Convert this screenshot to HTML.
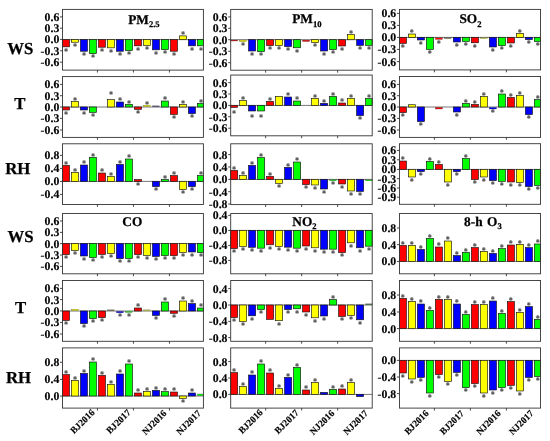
<!DOCTYPE html>
<html lang="en"><head><meta charset="utf-8"><title>Correlation of pollutants with WS, T and RH</title>
<style>
html,body{margin:0;padding:0;background:#fff;}
svg{display:block;font-family:"Liberation Serif",serif;font-weight:bold;fill:#000;text-rendering:geometricPrecision;}
.tk{font-size:11.8px;text-anchor:end;stroke:#000;stroke-width:0.15;}
.tt{font-size:13.3px;stroke:#000;stroke-width:0.25;word-spacing:1.2px;}
.sb{font-size:8.6px;stroke:#000;stroke-width:0.25;}
.rl{font-size:16.8px;text-anchor:middle;stroke:#000;stroke-width:0.25;}
.xl{font-size:9.45px;text-anchor:end;stroke:#000;stroke-width:0.15;}
.as{font-family:"Liberation Serif",serif;font-weight:bold;font-size:7.2px;fill:#585858;stroke:#585858;stroke-width:0.28;text-anchor:middle;}
.fr{fill:none;stroke:#333;stroke-width:0.9;}
.ln{stroke:#333;stroke-width:0.9;}
.z{stroke:#4a4a4a;stroke-width:0.75;}
.b{stroke:#111;stroke-width:0.65;}
</style></head><body>
<svg width="550" height="441" viewBox="0 0 550 441">
<rect x="0" y="0" width="550" height="441" fill="#fff"/>
<text class="rl" x="20.4" y="53.5">WS</text>
<text class="rl" x="19.8" y="108.6">T</text>
<text class="rl" x="17.8" y="173.5">RH</text>
<text class="rl" x="20.5" y="242.2">WS</text>
<text class="rl" x="20.5" y="312.7">T</text>
<text class="rl" x="18.6" y="382.6">RH</text>
<g>
<line class="z" x1="62.5" y1="39.65" x2="203.4" y2="39.65"/>
<rect class="b" x="62.42" y="39.65" width="7.05" height="7.17" fill="#ff0000"/>
<rect class="b" x="71.42" y="39.65" width="7.05" height="2.57" fill="#ffff00"/>
<rect class="b" x="80.42" y="39.65" width="7.05" height="11.58" fill="#0000ff"/>
<rect class="b" x="89.42" y="39.65" width="7.05" height="13.98" fill="#00ff00"/>
<rect class="b" x="98.42" y="39.65" width="7.05" height="7.57" fill="#ff0000"/>
<rect class="b" x="107.42" y="39.65" width="7.05" height="8.18" fill="#ffff00"/>
<rect class="b" x="116.42" y="39.65" width="7.05" height="11.58" fill="#0000ff"/>
<rect class="b" x="125.42" y="39.65" width="7.05" height="10.98" fill="#00ff00"/>
<rect class="b" x="134.43" y="39.65" width="7.05" height="6.17" fill="#ff0000"/>
<rect class="b" x="143.43" y="39.65" width="7.05" height="5.77" fill="#ffff00"/>
<rect class="b" x="152.43" y="39.65" width="7.05" height="10.18" fill="#0000ff"/>
<rect class="b" x="161.43" y="39.65" width="7.05" height="9.98" fill="#00ff00"/>
<rect class="b" x="170.43" y="39.65" width="7.05" height="11.58" fill="#ff0000"/>
<rect class="b" x="179.43" y="35.88" width="7.05" height="3.77" fill="#ffff00"/>
<rect class="b" x="188.43" y="39.65" width="7.05" height="6.17" fill="#0000ff"/>
<rect class="b" x="197.43" y="39.65" width="5.97" height="6.17" fill="#00ff00"/>
<rect class="fr" x="62.5" y="9.4" width="140.9" height="60.7"/>
<line class="ln" x1="60" y1="16.9" x2="62.5" y2="16.9"/>
<text class="tk" x="59.3" y="20.85">0.6</text>
<line class="ln" x1="60" y1="28.2" x2="62.5" y2="28.2"/>
<text class="tk" x="59.3" y="32.15">0.3</text>
<line class="ln" x1="60" y1="39.4" x2="62.5" y2="39.4"/>
<text class="tk" x="59.3" y="43.35">0.0</text>
<line class="ln" x1="60" y1="50.8" x2="62.5" y2="50.8"/>
<text class="tk" x="59.3" y="54.75">-0.3</text>
<line class="ln" x1="60" y1="62.2" x2="62.5" y2="62.2"/>
<text class="tk" x="59.3" y="66.15">-0.6</text>
<line class="ln" x1="97.45" y1="70.1" x2="97.45" y2="72.5"/>
<line class="ln" x1="133.45" y1="70.1" x2="133.45" y2="72.5"/>
<line class="ln" x1="169.45" y1="70.1" x2="169.45" y2="72.5"/>
<text class="as" transform="translate(65.95 53.65) scale(1 1.2)">*</text>
<text class="as" transform="translate(74.95 49.05) scale(1 1.2)">*</text>
<text class="as" transform="translate(83.95 58.05) scale(1 1.2)">*</text>
<text class="as" transform="translate(92.95 60.45) scale(1 1.2)">*</text>
<text class="as" transform="translate(101.95 54.05) scale(1 1.2)">*</text>
<text class="as" transform="translate(110.95 54.65) scale(1 1.2)">*</text>
<text class="as" transform="translate(119.95 58.05) scale(1 1.2)">*</text>
<text class="as" transform="translate(128.95 57.45) scale(1 1.2)">*</text>
<text class="as" transform="translate(137.95 52.65) scale(1 1.2)">*</text>
<text class="as" transform="translate(146.95 52.25) scale(1 1.2)">*</text>
<text class="as" transform="translate(155.95 56.65) scale(1 1.2)">*</text>
<text class="as" transform="translate(164.95 56.45) scale(1 1.2)">*</text>
<text class="as" transform="translate(173.95 58.05) scale(1 1.2)">*</text>
<text class="as" transform="translate(182.95 37.25) scale(1 1.2)">*</text>
<text class="as" transform="translate(191.95 52.65) scale(1 1.2)">*</text>
<text class="as" transform="translate(200.95 52.65) scale(1 1.2)">*</text>
<text class="tt" transform="translate(128.2 23.9)">PM<tspan class="sb" dy="3.3">2.5</tspan></text>
</g>
<g>
<line class="z" x1="230.7" y1="39.7" x2="372.2" y2="39.7"/>
<rect x="230.62" y="40.1" width="7.05" height="0.9" fill="#ff0000" stroke="#333" stroke-width="0.3"/>
<rect x="239.62" y="40.1" width="7.05" height="1.6" fill="#ffff00" stroke="#333" stroke-width="0.3"/>
<rect class="b" x="248.62" y="39.7" width="7.05" height="11.28" fill="#0000ff"/>
<rect class="b" x="257.62" y="39.7" width="7.05" height="11.88" fill="#00ff00"/>
<rect class="b" x="266.62" y="39.7" width="7.05" height="5.88" fill="#ff0000"/>
<rect class="b" x="275.62" y="39.7" width="7.05" height="5.88" fill="#ffff00"/>
<rect class="b" x="284.62" y="39.7" width="7.05" height="6.88" fill="#0000ff"/>
<rect class="b" x="293.62" y="39.7" width="7.05" height="8.08" fill="#00ff00"/>
<rect x="302.62" y="40.1" width="7.05" height="1.4" fill="#ff0000" stroke="#333" stroke-width="0.3"/>
<rect class="b" x="311.62" y="39.7" width="7.05" height="2.87" fill="#ffff00"/>
<rect class="b" x="320.62" y="39.7" width="7.05" height="11.28" fill="#0000ff"/>
<rect class="b" x="329.62" y="39.7" width="7.05" height="9.88" fill="#00ff00"/>
<rect class="b" x="338.62" y="39.7" width="7.05" height="6.27" fill="#ff0000"/>
<rect class="b" x="347.62" y="34.63" width="7.05" height="5.07" fill="#ffff00"/>
<rect class="b" x="356.62" y="39.7" width="7.05" height="5.67" fill="#0000ff"/>
<rect class="b" x="365.62" y="39.7" width="6.57" height="5.67" fill="#00ff00"/>
<rect class="fr" x="230.7" y="9.4" width="141.5" height="60.8"/>
<line class="ln" x1="228.2" y1="16.9" x2="230.7" y2="16.9"/>
<text class="tk" x="227.5" y="20.85">0.6</text>
<line class="ln" x1="228.2" y1="28.3" x2="230.7" y2="28.3"/>
<text class="tk" x="227.5" y="32.25">0.3</text>
<line class="ln" x1="228.2" y1="39.7" x2="230.7" y2="39.7"/>
<text class="tk" x="227.5" y="43.65">0.0</text>
<line class="ln" x1="228.2" y1="51.3" x2="230.7" y2="51.3"/>
<text class="tk" x="227.5" y="55.25">-0.3</text>
<line class="ln" x1="228.2" y1="62.7" x2="230.7" y2="62.7"/>
<text class="tk" x="227.5" y="66.65">-0.6</text>
<line class="ln" x1="265.65" y1="70.2" x2="265.65" y2="72.6"/>
<line class="ln" x1="301.65" y1="70.2" x2="301.65" y2="72.6"/>
<line class="ln" x1="337.65" y1="70.2" x2="337.65" y2="72.6"/>
<text class="as" transform="translate(243.15 48.1) scale(1 1.2)">*</text>
<text class="as" transform="translate(252.15 57.8) scale(1 1.2)">*</text>
<text class="as" transform="translate(261.15 58.4) scale(1 1.2)">*</text>
<text class="as" transform="translate(270.15 52.4) scale(1 1.2)">*</text>
<text class="as" transform="translate(279.15 52.4) scale(1 1.2)">*</text>
<text class="as" transform="translate(288.15 53.4) scale(1 1.2)">*</text>
<text class="as" transform="translate(297.15 54.6) scale(1 1.2)">*</text>
<text class="as" transform="translate(315.15 49.4) scale(1 1.2)">*</text>
<text class="as" transform="translate(324.15 57.8) scale(1 1.2)">*</text>
<text class="as" transform="translate(333.15 56.4) scale(1 1.2)">*</text>
<text class="as" transform="translate(342.15 52.8) scale(1 1.2)">*</text>
<text class="as" transform="translate(351.15 36) scale(1 1.2)">*</text>
<text class="as" transform="translate(360.15 52.2) scale(1 1.2)">*</text>
<text class="as" transform="translate(369.15 52.2) scale(1 1.2)">*</text>
<text class="tt" transform="translate(292.2 23.4)">PM<tspan class="sb" dy="3.3">10</tspan></text>
</g>
<g>
<line class="z" x1="399.45" y1="37.4" x2="540.55" y2="37.4"/>
<rect class="b" x="399.38" y="37.4" width="7.05" height="5.97" fill="#ff0000"/>
<rect class="b" x="408.38" y="34.02" width="7.05" height="3.37" fill="#ffff00"/>
<rect class="b" x="417.38" y="37.4" width="7.05" height="2.57" fill="#0000ff"/>
<rect class="b" x="426.38" y="37.4" width="7.05" height="11.98" fill="#00ff00"/>
<rect x="435.38" y="37.8" width="7.05" height="1.6" fill="#ff0000" stroke="#333" stroke-width="0.3"/>
<rect x="444.38" y="37.8" width="7.05" height="0.7" fill="#6f6f30" stroke="#333" stroke-width="0.3"/>
<rect class="b" x="453.38" y="37.4" width="7.05" height="4.57" fill="#0000ff"/>
<rect class="b" x="462.38" y="37.4" width="7.05" height="3.97" fill="#00ff00"/>
<rect class="b" x="471.38" y="37.4" width="7.05" height="5.38" fill="#ff0000"/>
<rect x="480.38" y="37.8" width="7.05" height="0.7" fill="#ffff00" stroke="#333" stroke-width="0.3"/>
<rect class="b" x="489.38" y="37.4" width="7.05" height="9.58" fill="#0000ff"/>
<rect class="b" x="498.38" y="37.4" width="7.05" height="8.18" fill="#00ff00"/>
<rect class="b" x="507.38" y="37.4" width="7.05" height="5.57" fill="#ff0000"/>
<rect class="b" x="516.38" y="33.43" width="7.05" height="3.97" fill="#ffff00"/>
<rect class="b" x="525.38" y="37.4" width="7.05" height="2.17" fill="#0000ff"/>
<rect class="b" x="534.38" y="37.4" width="6.17" height="3.97" fill="#00ff00"/>
<rect class="fr" x="399.45" y="9.4" width="141.1" height="60.5"/>
<line class="ln" x1="396.95" y1="13.4" x2="399.45" y2="13.4"/>
<text class="tk" x="396.25" y="17.35">0.6</text>
<line class="ln" x1="396.95" y1="25.4" x2="399.45" y2="25.4"/>
<text class="tk" x="396.25" y="29.35">0.3</text>
<line class="ln" x1="396.95" y1="37.4" x2="399.45" y2="37.4"/>
<text class="tk" x="396.25" y="41.35">0.0</text>
<line class="ln" x1="396.95" y1="49.4" x2="399.45" y2="49.4"/>
<text class="tk" x="396.25" y="53.35">-0.3</text>
<line class="ln" x1="396.95" y1="61.6" x2="399.45" y2="61.6"/>
<text class="tk" x="396.25" y="65.55">-0.6</text>
<line class="ln" x1="434.4" y1="69.9" x2="434.4" y2="72.3"/>
<line class="ln" x1="470.4" y1="69.9" x2="470.4" y2="72.3"/>
<line class="ln" x1="506.4" y1="69.9" x2="506.4" y2="72.3"/>
<text class="as" transform="translate(402.9 50.2) scale(1 1.2)">*</text>
<text class="as" transform="translate(411.9 35.4) scale(1 1.2)">*</text>
<text class="as" transform="translate(420.9 46.8) scale(1 1.2)">*</text>
<text class="as" transform="translate(429.9 56.2) scale(1 1.2)">*</text>
<text class="as" transform="translate(438.9 45.8) scale(1 1.2)">*</text>
<text class="as" transform="translate(456.9 48.8) scale(1 1.2)">*</text>
<text class="as" transform="translate(465.9 48.2) scale(1 1.2)">*</text>
<text class="as" transform="translate(474.9 49.6) scale(1 1.2)">*</text>
<text class="as" transform="translate(492.9 53.8) scale(1 1.2)">*</text>
<text class="as" transform="translate(501.9 52.4) scale(1 1.2)">*</text>
<text class="as" transform="translate(510.9 49.8) scale(1 1.2)">*</text>
<text class="as" transform="translate(519.9 34.8) scale(1 1.2)">*</text>
<text class="as" transform="translate(528.9 46.4) scale(1 1.2)">*</text>
<text class="as" transform="translate(537.9 48.2) scale(1 1.2)">*</text>
<text class="tt" transform="translate(459.4 23.3)">SO<tspan class="sb" dy="3.3">2</tspan></text>
</g>
<g>
<line class="z" x1="62.5" y1="107" x2="203.4" y2="107"/>
<rect class="b" x="62.42" y="107" width="7.05" height="2.97" fill="#ff0000"/>
<rect class="b" x="71.42" y="101.42" width="7.05" height="5.57" fill="#ffff00"/>
<rect class="b" x="80.42" y="107" width="7.05" height="2.97" fill="#0000ff"/>
<rect class="b" x="89.42" y="107" width="7.05" height="5.38" fill="#00ff00"/>
<rect class="b" x="107.42" y="99.62" width="7.05" height="7.38" fill="#ffff00"/>
<rect class="b" x="116.42" y="102.03" width="7.05" height="4.97" fill="#0000ff"/>
<rect class="b" x="125.42" y="104.42" width="7.05" height="2.57" fill="#00ff00"/>
<rect class="b" x="134.43" y="107" width="7.05" height="2.37" fill="#ff0000"/>
<rect x="143.43" y="105.2" width="7.05" height="1.4" fill="#ffff00" stroke="#333" stroke-width="0.3"/>
<rect x="152.43" y="105.9" width="7.05" height="0.7" fill="#30306f" stroke="#333" stroke-width="0.3"/>
<rect class="b" x="161.43" y="101.03" width="7.05" height="5.97" fill="#00ff00"/>
<rect class="b" x="170.43" y="107" width="7.05" height="7.38" fill="#ff0000"/>
<rect class="b" x="179.43" y="104.62" width="7.05" height="2.37" fill="#ffff00"/>
<rect class="b" x="188.43" y="107" width="7.05" height="6.57" fill="#0000ff"/>
<rect class="b" x="197.43" y="103.42" width="5.97" height="3.57" fill="#00ff00"/>
<rect class="fr" x="62.5" y="76.6" width="140.9" height="60.8"/>
<line class="ln" x1="60" y1="84.4" x2="62.5" y2="84.4"/>
<text class="tk" x="59.3" y="88.35">0.6</text>
<line class="ln" x1="60" y1="95.7" x2="62.5" y2="95.7"/>
<text class="tk" x="59.3" y="99.65">0.3</text>
<line class="ln" x1="60" y1="107" x2="62.5" y2="107"/>
<text class="tk" x="59.3" y="110.95">0.0</text>
<line class="ln" x1="60" y1="118.4" x2="62.5" y2="118.4"/>
<text class="tk" x="59.3" y="122.35">-0.3</text>
<line class="ln" x1="60" y1="130" x2="62.5" y2="130"/>
<text class="tk" x="59.3" y="133.95">-0.6</text>
<line class="ln" x1="97.45" y1="137.4" x2="97.45" y2="139.8"/>
<line class="ln" x1="133.45" y1="137.4" x2="133.45" y2="139.8"/>
<line class="ln" x1="169.45" y1="137.4" x2="169.45" y2="139.8"/>
<text class="as" transform="translate(65.95 116.8) scale(1 1.2)">*</text>
<text class="as" transform="translate(74.95 102.8) scale(1 1.2)">*</text>
<text class="as" transform="translate(83.95 116.8) scale(1 1.2)">*</text>
<text class="as" transform="translate(92.95 119.2) scale(1 1.2)">*</text>
<text class="as" transform="translate(110.95 97.1) scale(1 1.2)">*</text>
<text class="as" transform="translate(119.95 103.4) scale(1 1.2)">*</text>
<text class="as" transform="translate(128.95 105.8) scale(1 1.2)">*</text>
<text class="as" transform="translate(137.95 116.2) scale(1 1.2)">*</text>
<text class="as" transform="translate(146.95 107) scale(1 1.2)">*</text>
<text class="as" transform="translate(164.95 102.4) scale(1 1.2)">*</text>
<text class="as" transform="translate(173.95 121.2) scale(1 1.2)">*</text>
<text class="as" transform="translate(182.95 106) scale(1 1.2)">*</text>
<text class="as" transform="translate(191.95 120.4) scale(1 1.2)">*</text>
<text class="as" transform="translate(200.95 104.8) scale(1 1.2)">*</text>
</g>
<g>
<line class="z" x1="230.7" y1="105.4" x2="372.2" y2="105.4"/>
<rect class="b" x="230.62" y="105.4" width="7.05" height="1.97" fill="#ff0000"/>
<rect class="b" x="239.62" y="100.63" width="7.05" height="4.77" fill="#ffff00"/>
<rect class="b" x="248.62" y="105.4" width="7.05" height="5.57" fill="#0000ff"/>
<rect class="b" x="257.62" y="105.4" width="7.05" height="5.57" fill="#00ff00"/>
<rect class="b" x="266.62" y="101.43" width="7.05" height="3.97" fill="#ff0000"/>
<rect class="b" x="275.62" y="96.43" width="7.05" height="8.98" fill="#ffff00"/>
<rect class="b" x="284.62" y="97.03" width="7.05" height="8.38" fill="#0000ff"/>
<rect class="b" x="293.62" y="101.03" width="7.05" height="4.38" fill="#00ff00"/>
<rect class="b" x="311.62" y="98.43" width="7.05" height="6.97" fill="#ffff00"/>
<rect class="b" x="320.62" y="103.43" width="7.05" height="1.97" fill="#0000ff"/>
<rect class="b" x="329.62" y="96.43" width="7.05" height="8.98" fill="#00ff00"/>
<rect class="b" x="338.62" y="103.03" width="7.05" height="2.37" fill="#ff0000"/>
<rect class="b" x="347.62" y="98.43" width="7.05" height="6.97" fill="#ffff00"/>
<rect class="b" x="356.62" y="105.4" width="7.05" height="10.18" fill="#0000ff"/>
<rect class="b" x="365.62" y="98.63" width="6.57" height="6.77" fill="#00ff00"/>
<rect class="fr" x="230.7" y="75.05" width="141.5" height="60.75"/>
<line class="ln" x1="228.2" y1="82.6" x2="230.7" y2="82.6"/>
<text class="tk" x="227.5" y="86.55">0.6</text>
<line class="ln" x1="228.2" y1="94" x2="230.7" y2="94"/>
<text class="tk" x="227.5" y="97.95">0.3</text>
<line class="ln" x1="228.2" y1="105.4" x2="230.7" y2="105.4"/>
<text class="tk" x="227.5" y="109.35">0.0</text>
<line class="ln" x1="228.2" y1="116.7" x2="230.7" y2="116.7"/>
<text class="tk" x="227.5" y="120.65">-0.3</text>
<line class="ln" x1="228.2" y1="128.2" x2="230.7" y2="128.2"/>
<text class="tk" x="227.5" y="132.15">-0.6</text>
<line class="ln" x1="265.65" y1="135.8" x2="265.65" y2="138.2"/>
<line class="ln" x1="301.65" y1="135.8" x2="301.65" y2="138.2"/>
<line class="ln" x1="337.65" y1="135.8" x2="337.65" y2="138.2"/>
<text class="as" transform="translate(234.15 116.2) scale(1 1.2)">*</text>
<text class="as" transform="translate(243.15 102) scale(1 1.2)">*</text>
<text class="as" transform="translate(252.15 120) scale(1 1.2)">*</text>
<text class="as" transform="translate(261.15 120) scale(1 1.2)">*</text>
<text class="as" transform="translate(270.15 102.8) scale(1 1.2)">*</text>
<text class="as" transform="translate(288.15 98.4) scale(1 1.2)">*</text>
<text class="as" transform="translate(297.15 102.4) scale(1 1.2)">*</text>
<text class="as" transform="translate(315.15 99.8) scale(1 1.2)">*</text>
<text class="as" transform="translate(324.15 104.8) scale(1 1.2)">*</text>
<text class="as" transform="translate(333.15 97.8) scale(1 1.2)">*</text>
<text class="as" transform="translate(342.15 104.4) scale(1 1.2)">*</text>
<text class="as" transform="translate(351.15 99.8) scale(1 1.2)">*</text>
<text class="as" transform="translate(360.15 122.4) scale(1 1.2)">*</text>
<text class="as" transform="translate(369.15 100) scale(1 1.2)">*</text>
</g>
<g>
<line class="z" x1="399.45" y1="107" x2="540.55" y2="107"/>
<rect class="b" x="399.38" y="107" width="7.05" height="5.57" fill="#ff0000"/>
<rect class="b" x="408.38" y="104.73" width="7.05" height="2.27" fill="#ffff00"/>
<rect class="b" x="417.38" y="107" width="7.05" height="14.58" fill="#0000ff"/>
<rect x="435.38" y="107.4" width="7.05" height="1.6" fill="#ff0000" stroke="#333" stroke-width="0.3"/>
<rect class="b" x="453.38" y="107" width="7.05" height="4.97" fill="#0000ff"/>
<rect class="b" x="462.38" y="103.42" width="7.05" height="3.57" fill="#00ff00"/>
<rect class="b" x="471.38" y="104.42" width="7.05" height="2.57" fill="#ff0000"/>
<rect class="b" x="480.38" y="96.42" width="7.05" height="10.58" fill="#ffff00"/>
<rect x="489.38" y="107.4" width="7.05" height="1.6" fill="#0000ff" stroke="#333" stroke-width="0.3"/>
<rect class="b" x="498.38" y="94.03" width="7.05" height="12.98" fill="#00ff00"/>
<rect class="b" x="507.38" y="97.42" width="7.05" height="9.58" fill="#ff0000"/>
<rect class="b" x="516.38" y="95.42" width="7.05" height="11.58" fill="#ffff00"/>
<rect class="b" x="525.38" y="107" width="7.05" height="7.57" fill="#0000ff"/>
<rect class="b" x="534.38" y="99.62" width="6.17" height="7.38" fill="#00ff00"/>
<rect class="fr" x="399.45" y="76.5" width="141.1" height="60.9"/>
<line class="ln" x1="396.95" y1="84.4" x2="399.45" y2="84.4"/>
<text class="tk" x="396.25" y="88.35">0.6</text>
<line class="ln" x1="396.95" y1="95.7" x2="399.45" y2="95.7"/>
<text class="tk" x="396.25" y="99.65">0.3</text>
<line class="ln" x1="396.95" y1="107" x2="399.45" y2="107"/>
<text class="tk" x="396.25" y="110.95">0.0</text>
<line class="ln" x1="396.95" y1="118.4" x2="399.45" y2="118.4"/>
<text class="tk" x="396.25" y="122.35">-0.3</text>
<line class="ln" x1="396.95" y1="130" x2="399.45" y2="130"/>
<text class="tk" x="396.25" y="133.95">-0.6</text>
<line class="ln" x1="434.4" y1="137.4" x2="434.4" y2="139.8"/>
<line class="ln" x1="470.4" y1="137.4" x2="470.4" y2="139.8"/>
<line class="ln" x1="506.4" y1="137.4" x2="506.4" y2="139.8"/>
<text class="as" transform="translate(402.9 119.4) scale(1 1.2)">*</text>
<text class="as" transform="translate(420.9 128.4) scale(1 1.2)">*</text>
<text class="as" transform="translate(456.9 118.8) scale(1 1.2)">*</text>
<text class="as" transform="translate(465.9 104.8) scale(1 1.2)">*</text>
<text class="as" transform="translate(474.9 105.8) scale(1 1.2)">*</text>
<text class="as" transform="translate(483.9 97.8) scale(1 1.2)">*</text>
<text class="as" transform="translate(492.9 115.4) scale(1 1.2)">*</text>
<text class="as" transform="translate(501.9 95.4) scale(1 1.2)">*</text>
<text class="as" transform="translate(510.9 98.8) scale(1 1.2)">*</text>
<text class="as" transform="translate(519.9 96.8) scale(1 1.2)">*</text>
<text class="as" transform="translate(528.9 121.4) scale(1 1.2)">*</text>
<text class="as" transform="translate(537.9 101) scale(1 1.2)">*</text>
</g>
<g>
<line class="z" x1="62.5" y1="181.4" x2="203.4" y2="181.4"/>
<rect class="b" x="62.42" y="165.42" width="7.05" height="15.98" fill="#ff0000"/>
<rect class="b" x="71.42" y="172.42" width="7.05" height="8.98" fill="#ffff00"/>
<rect class="b" x="80.42" y="165.03" width="7.05" height="16.38" fill="#0000ff"/>
<rect class="b" x="89.42" y="157.42" width="7.05" height="23.98" fill="#00ff00"/>
<rect class="b" x="98.42" y="173.03" width="7.05" height="8.38" fill="#ff0000"/>
<rect class="b" x="107.42" y="176.42" width="7.05" height="4.97" fill="#ffff00"/>
<rect class="b" x="116.42" y="164.42" width="7.05" height="16.98" fill="#0000ff"/>
<rect class="b" x="125.42" y="159.03" width="7.05" height="22.38" fill="#00ff00"/>
<rect class="b" x="134.43" y="179.62" width="7.05" height="1.78" fill="#ff0000"/>
<rect class="b" x="152.43" y="181.4" width="7.05" height="5.17" fill="#0000ff"/>
<rect class="b" x="161.43" y="179.42" width="7.05" height="1.97" fill="#00ff00"/>
<rect class="b" x="170.43" y="175.62" width="7.05" height="5.77" fill="#ff0000"/>
<rect class="b" x="179.43" y="181.4" width="7.05" height="8.18" fill="#ffff00"/>
<rect class="b" x="188.43" y="181.4" width="7.05" height="5.17" fill="#0000ff"/>
<rect class="b" x="197.43" y="175.62" width="5.97" height="5.77" fill="#00ff00"/>
<rect class="fr" x="62.5" y="143.8" width="140.9" height="60.65"/>
<line class="ln" x1="60" y1="155.4" x2="62.5" y2="155.4"/>
<text class="tk" x="59.3" y="159.35">0.8</text>
<line class="ln" x1="60" y1="168.4" x2="62.5" y2="168.4"/>
<text class="tk" x="59.3" y="172.35">0.4</text>
<line class="ln" x1="60" y1="181.4" x2="62.5" y2="181.4"/>
<text class="tk" x="59.3" y="185.35">0.0</text>
<line class="ln" x1="60" y1="194.4" x2="62.5" y2="194.4"/>
<text class="tk" x="59.3" y="198.35">-0.4</text>
<line class="ln" x1="97.45" y1="204.45" x2="97.45" y2="206.85"/>
<line class="ln" x1="133.45" y1="204.45" x2="133.45" y2="206.85"/>
<line class="ln" x1="169.45" y1="204.45" x2="169.45" y2="206.85"/>
<text class="as" transform="translate(65.95 166.8) scale(1 1.2)">*</text>
<text class="as" transform="translate(74.95 173.8) scale(1 1.2)">*</text>
<text class="as" transform="translate(83.95 166.4) scale(1 1.2)">*</text>
<text class="as" transform="translate(92.95 158.8) scale(1 1.2)">*</text>
<text class="as" transform="translate(101.95 174.4) scale(1 1.2)">*</text>
<text class="as" transform="translate(110.95 177.8) scale(1 1.2)">*</text>
<text class="as" transform="translate(119.95 165.8) scale(1 1.2)">*</text>
<text class="as" transform="translate(128.95 160.4) scale(1 1.2)">*</text>
<text class="as" transform="translate(137.95 188.3) scale(1 1.2)">*</text>
<text class="as" transform="translate(155.95 193.4) scale(1 1.2)">*</text>
<text class="as" transform="translate(164.95 180.8) scale(1 1.2)">*</text>
<text class="as" transform="translate(173.95 177) scale(1 1.2)">*</text>
<text class="as" transform="translate(182.95 196.4) scale(1 1.2)">*</text>
<text class="as" transform="translate(191.95 193.4) scale(1 1.2)">*</text>
<text class="as" transform="translate(200.95 177) scale(1 1.2)">*</text>
</g>
<g>
<line class="z" x1="230.7" y1="179.4" x2="372.2" y2="179.4"/>
<rect class="b" x="230.62" y="170.42" width="7.05" height="8.98" fill="#ff0000"/>
<rect class="b" x="239.62" y="175.42" width="7.05" height="3.97" fill="#ffff00"/>
<rect class="b" x="248.62" y="165.42" width="7.05" height="13.98" fill="#0000ff"/>
<rect class="b" x="257.62" y="157.62" width="7.05" height="21.78" fill="#00ff00"/>
<rect class="b" x="266.62" y="176.42" width="7.05" height="2.97" fill="#ff0000"/>
<rect class="b" x="275.62" y="179.4" width="7.05" height="3.97" fill="#ffff00"/>
<rect class="b" x="284.62" y="167.42" width="7.05" height="11.98" fill="#0000ff"/>
<rect class="b" x="293.62" y="162.03" width="7.05" height="17.38" fill="#00ff00"/>
<rect class="b" x="302.62" y="179.4" width="7.05" height="5.17" fill="#ff0000"/>
<rect class="b" x="311.62" y="179.4" width="7.05" height="5.57" fill="#ffff00"/>
<rect class="b" x="320.62" y="179.4" width="7.05" height="9.58" fill="#0000ff"/>
<rect x="329.62" y="179.8" width="7.05" height="1" fill="#00ff00" stroke="#333" stroke-width="0.3"/>
<rect class="b" x="338.62" y="179.4" width="7.05" height="4.57" fill="#ff0000"/>
<rect class="b" x="347.62" y="179.4" width="7.05" height="11.58" fill="#ffff00"/>
<rect class="b" x="356.62" y="179.4" width="7.05" height="11.98" fill="#0000ff"/>
<rect x="365.62" y="179.8" width="6.57" height="1" fill="#00ff00" stroke="#333" stroke-width="0.3"/>
<rect class="fr" x="230.7" y="143.8" width="141.5" height="60.8"/>
<line class="ln" x1="228.2" y1="154.6" x2="230.7" y2="154.6"/>
<text class="tk" x="227.5" y="158.55">0.8</text>
<line class="ln" x1="228.2" y1="167" x2="230.7" y2="167"/>
<text class="tk" x="227.5" y="170.95">0.4</text>
<line class="ln" x1="228.2" y1="179.4" x2="230.7" y2="179.4"/>
<text class="tk" x="227.5" y="183.35">0.0</text>
<line class="ln" x1="228.2" y1="191.7" x2="230.7" y2="191.7"/>
<text class="tk" x="227.5" y="195.65">-0.4</text>
<line class="ln" x1="228.2" y1="204" x2="230.7" y2="204"/>
<text class="tk" x="227.5" y="207.95">-0.8</text>
<line class="ln" x1="265.65" y1="204.6" x2="265.65" y2="207"/>
<line class="ln" x1="301.65" y1="204.6" x2="301.65" y2="207"/>
<line class="ln" x1="337.65" y1="204.6" x2="337.65" y2="207"/>
<text class="as" transform="translate(234.15 171.8) scale(1 1.2)">*</text>
<text class="as" transform="translate(243.15 176.8) scale(1 1.2)">*</text>
<text class="as" transform="translate(252.15 166.8) scale(1 1.2)">*</text>
<text class="as" transform="translate(261.15 159) scale(1 1.2)">*</text>
<text class="as" transform="translate(270.15 177.8) scale(1 1.2)">*</text>
<text class="as" transform="translate(279.15 190.2) scale(1 1.2)">*</text>
<text class="as" transform="translate(288.15 168.8) scale(1 1.2)">*</text>
<text class="as" transform="translate(297.15 163.4) scale(1 1.2)">*</text>
<text class="as" transform="translate(306.15 191.4) scale(1 1.2)">*</text>
<text class="as" transform="translate(315.15 191.8) scale(1 1.2)">*</text>
<text class="as" transform="translate(324.15 195.8) scale(1 1.2)">*</text>
<text class="as" transform="translate(333.15 187.2) scale(1 1.2)">*</text>
<text class="as" transform="translate(342.15 190.8) scale(1 1.2)">*</text>
<text class="as" transform="translate(351.15 197.8) scale(1 1.2)">*</text>
<text class="as" transform="translate(360.15 198.2) scale(1 1.2)">*</text>
</g>
<g>
<line class="z" x1="399.45" y1="169.4" x2="540.55" y2="169.4"/>
<rect class="b" x="399.38" y="161.03" width="7.05" height="8.38" fill="#ff0000"/>
<rect class="b" x="408.38" y="169.4" width="7.05" height="7.57" fill="#ffff00"/>
<rect class="b" x="417.38" y="169.4" width="7.05" height="2.17" fill="#0000ff"/>
<rect class="b" x="426.38" y="161.42" width="7.05" height="7.98" fill="#00ff00"/>
<rect class="b" x="435.38" y="164.42" width="7.05" height="4.97" fill="#ff0000"/>
<rect class="b" x="444.38" y="169.4" width="7.05" height="12.58" fill="#ffff00"/>
<rect class="b" x="453.38" y="169.4" width="7.05" height="2.17" fill="#0000ff"/>
<rect class="b" x="462.38" y="158.62" width="7.05" height="10.78" fill="#00ff00"/>
<rect class="b" x="471.38" y="169.4" width="7.05" height="10.18" fill="#ff0000"/>
<rect class="b" x="480.38" y="169.4" width="7.05" height="7.57" fill="#ffff00"/>
<rect class="b" x="489.38" y="169.4" width="7.05" height="11.18" fill="#0000ff"/>
<rect class="b" x="498.38" y="169.4" width="7.05" height="11.98" fill="#00ff00"/>
<rect class="b" x="507.38" y="169.4" width="7.05" height="12.58" fill="#ff0000"/>
<rect class="b" x="516.38" y="169.4" width="7.05" height="12.98" fill="#ffff00"/>
<rect class="b" x="525.38" y="169.4" width="7.05" height="17.18" fill="#0000ff"/>
<rect class="b" x="534.38" y="169.4" width="6.17" height="15.98" fill="#00ff00"/>
<rect class="fr" x="399.45" y="143.7" width="141.1" height="60.6"/>
<line class="ln" x1="396.95" y1="150.4" x2="399.45" y2="150.4"/>
<text class="tk" x="396.25" y="154.35">0.6</text>
<line class="ln" x1="396.95" y1="159.8" x2="399.45" y2="159.8"/>
<text class="tk" x="396.25" y="163.75">0.3</text>
<line class="ln" x1="396.95" y1="169.4" x2="399.45" y2="169.4"/>
<text class="tk" x="396.25" y="173.35">0.0</text>
<line class="ln" x1="396.95" y1="178.7" x2="399.45" y2="178.7"/>
<text class="tk" x="396.25" y="182.65">-0.3</text>
<line class="ln" x1="396.95" y1="188" x2="399.45" y2="188"/>
<text class="tk" x="396.25" y="191.95">-0.6</text>
<line class="ln" x1="396.95" y1="197.2" x2="399.45" y2="197.2"/>
<text class="tk" x="396.25" y="201.15">-0.9</text>
<line class="ln" x1="434.4" y1="204.3" x2="434.4" y2="206.7"/>
<line class="ln" x1="470.4" y1="204.3" x2="470.4" y2="206.7"/>
<line class="ln" x1="506.4" y1="204.3" x2="506.4" y2="206.7"/>
<text class="as" transform="translate(402.9 162.4) scale(1 1.2)">*</text>
<text class="as" transform="translate(411.9 183.8) scale(1 1.2)">*</text>
<text class="as" transform="translate(420.9 178.4) scale(1 1.2)">*</text>
<text class="as" transform="translate(429.9 162.8) scale(1 1.2)">*</text>
<text class="as" transform="translate(438.9 165.8) scale(1 1.2)">*</text>
<text class="as" transform="translate(447.9 188.8) scale(1 1.2)">*</text>
<text class="as" transform="translate(456.9 178.4) scale(1 1.2)">*</text>
<text class="as" transform="translate(465.9 160) scale(1 1.2)">*</text>
<text class="as" transform="translate(474.9 186.4) scale(1 1.2)">*</text>
<text class="as" transform="translate(483.9 183.8) scale(1 1.2)">*</text>
<text class="as" transform="translate(492.9 187.4) scale(1 1.2)">*</text>
<text class="as" transform="translate(501.9 188.2) scale(1 1.2)">*</text>
<text class="as" transform="translate(510.9 188.8) scale(1 1.2)">*</text>
<text class="as" transform="translate(519.9 189.2) scale(1 1.2)">*</text>
<text class="as" transform="translate(528.9 193.4) scale(1 1.2)">*</text>
<text class="as" transform="translate(537.9 192.2) scale(1 1.2)">*</text>
</g>
<g>
<line class="z" x1="62.5" y1="243.6" x2="203.4" y2="243.6"/>
<rect class="b" x="62.42" y="243.6" width="7.05" height="10.98" fill="#ff0000"/>
<rect class="b" x="71.42" y="243.6" width="7.05" height="6.97" fill="#ffff00"/>
<rect class="b" x="80.42" y="243.6" width="7.05" height="12.38" fill="#0000ff"/>
<rect class="b" x="89.42" y="243.6" width="7.05" height="13.98" fill="#00ff00"/>
<rect class="b" x="98.42" y="243.6" width="7.05" height="10.78" fill="#ff0000"/>
<rect class="b" x="107.42" y="243.6" width="7.05" height="9.98" fill="#ffff00"/>
<rect class="b" x="116.42" y="243.6" width="7.05" height="14.98" fill="#0000ff"/>
<rect class="b" x="125.42" y="243.6" width="7.05" height="14.98" fill="#00ff00"/>
<rect class="b" x="134.43" y="243.6" width="7.05" height="10.98" fill="#ff0000"/>
<rect class="b" x="143.43" y="243.6" width="7.05" height="11.78" fill="#ffff00"/>
<rect class="b" x="152.43" y="243.6" width="7.05" height="12.78" fill="#0000ff"/>
<rect class="b" x="161.43" y="243.6" width="7.05" height="11.98" fill="#00ff00"/>
<rect class="b" x="170.43" y="243.6" width="7.05" height="11.98" fill="#ff0000"/>
<rect class="b" x="179.43" y="243.6" width="7.05" height="8.78" fill="#ffff00"/>
<rect class="b" x="188.43" y="243.6" width="7.05" height="8.38" fill="#0000ff"/>
<rect class="b" x="197.43" y="243.6" width="5.97" height="8.98" fill="#00ff00"/>
<rect class="fr" x="62.5" y="213.55" width="140.9" height="60.25"/>
<line class="ln" x1="60" y1="221" x2="62.5" y2="221"/>
<text class="tk" x="59.3" y="224.95">0.6</text>
<line class="ln" x1="60" y1="232.4" x2="62.5" y2="232.4"/>
<text class="tk" x="59.3" y="236.35">0.3</text>
<line class="ln" x1="60" y1="243.6" x2="62.5" y2="243.6"/>
<text class="tk" x="59.3" y="247.55">0.0</text>
<line class="ln" x1="60" y1="255" x2="62.5" y2="255"/>
<text class="tk" x="59.3" y="258.95">-0.3</text>
<line class="ln" x1="60" y1="266.4" x2="62.5" y2="266.4"/>
<text class="tk" x="59.3" y="270.35">-0.6</text>
<line class="ln" x1="97.45" y1="273.8" x2="97.45" y2="276.2"/>
<line class="ln" x1="133.45" y1="273.8" x2="133.45" y2="276.2"/>
<line class="ln" x1="169.45" y1="273.8" x2="169.45" y2="276.2"/>
<text class="as" transform="translate(65.95 261.4) scale(1 1.2)">*</text>
<text class="as" transform="translate(74.95 257.4) scale(1 1.2)">*</text>
<text class="as" transform="translate(83.95 262.8) scale(1 1.2)">*</text>
<text class="as" transform="translate(92.95 264.4) scale(1 1.2)">*</text>
<text class="as" transform="translate(101.95 261.2) scale(1 1.2)">*</text>
<text class="as" transform="translate(110.95 260.4) scale(1 1.2)">*</text>
<text class="as" transform="translate(119.95 265.4) scale(1 1.2)">*</text>
<text class="as" transform="translate(128.95 265.4) scale(1 1.2)">*</text>
<text class="as" transform="translate(137.95 261.4) scale(1 1.2)">*</text>
<text class="as" transform="translate(146.95 262.2) scale(1 1.2)">*</text>
<text class="as" transform="translate(155.95 263.2) scale(1 1.2)">*</text>
<text class="as" transform="translate(164.95 262.4) scale(1 1.2)">*</text>
<text class="as" transform="translate(173.95 262.4) scale(1 1.2)">*</text>
<text class="as" transform="translate(182.95 259.2) scale(1 1.2)">*</text>
<text class="as" transform="translate(191.95 258.8) scale(1 1.2)">*</text>
<text class="as" transform="translate(200.95 259.4) scale(1 1.2)">*</text>
<text class="tt" transform="translate(122.3 225.8)">CO</text>
</g>
<g>
<line class="z" x1="230.7" y1="230.4" x2="372.2" y2="230.4"/>
<rect class="b" x="230.62" y="230.4" width="7.05" height="18.18" fill="#ff0000"/>
<rect class="b" x="239.62" y="230.4" width="7.05" height="15.98" fill="#ffff00"/>
<rect class="b" x="248.62" y="230.4" width="7.05" height="16.88" fill="#0000ff"/>
<rect class="b" x="257.62" y="230.4" width="7.05" height="17.78" fill="#00ff00"/>
<rect class="b" x="266.62" y="230.4" width="7.05" height="14.38" fill="#ff0000"/>
<rect class="b" x="275.62" y="230.4" width="7.05" height="16.18" fill="#ffff00"/>
<rect class="b" x="284.62" y="230.4" width="7.05" height="16.78" fill="#0000ff"/>
<rect class="b" x="293.62" y="230.4" width="7.05" height="17.78" fill="#00ff00"/>
<rect class="b" x="302.62" y="230.4" width="7.05" height="15.58" fill="#ff0000"/>
<rect class="b" x="311.62" y="230.4" width="7.05" height="17.38" fill="#ffff00"/>
<rect class="b" x="320.62" y="230.4" width="7.05" height="18.78" fill="#0000ff"/>
<rect class="b" x="329.62" y="230.4" width="7.05" height="18.78" fill="#00ff00"/>
<rect class="b" x="338.62" y="230.4" width="7.05" height="22.18" fill="#ff0000"/>
<rect class="b" x="347.62" y="230.4" width="7.05" height="12.38" fill="#ffff00"/>
<rect class="b" x="356.62" y="230.4" width="7.05" height="17.38" fill="#0000ff"/>
<rect class="b" x="365.62" y="230.4" width="6.57" height="15.78" fill="#00ff00"/>
<rect class="fr" x="230.7" y="213.55" width="141.5" height="60.25"/>
<line class="ln" x1="228.2" y1="215.4" x2="230.7" y2="215.4"/>
<text class="tk" x="227.5" y="219.35">0.4</text>
<line class="ln" x1="228.2" y1="230.4" x2="230.7" y2="230.4"/>
<text class="tk" x="227.5" y="234.35">0.0</text>
<line class="ln" x1="228.2" y1="245.4" x2="230.7" y2="245.4"/>
<text class="tk" x="227.5" y="249.35">-0.4</text>
<line class="ln" x1="228.2" y1="260.4" x2="230.7" y2="260.4"/>
<text class="tk" x="227.5" y="264.35">-0.8</text>
<line class="ln" x1="265.65" y1="273.8" x2="265.65" y2="276.2"/>
<line class="ln" x1="301.65" y1="273.8" x2="301.65" y2="276.2"/>
<line class="ln" x1="337.65" y1="273.8" x2="337.65" y2="276.2"/>
<text class="as" transform="translate(234.15 255.4) scale(1 1.2)">*</text>
<text class="as" transform="translate(243.15 253.2) scale(1 1.2)">*</text>
<text class="as" transform="translate(252.15 254.1) scale(1 1.2)">*</text>
<text class="as" transform="translate(261.15 255) scale(1 1.2)">*</text>
<text class="as" transform="translate(270.15 251.6) scale(1 1.2)">*</text>
<text class="as" transform="translate(279.15 253.4) scale(1 1.2)">*</text>
<text class="as" transform="translate(288.15 254) scale(1 1.2)">*</text>
<text class="as" transform="translate(297.15 255) scale(1 1.2)">*</text>
<text class="as" transform="translate(306.15 252.8) scale(1 1.2)">*</text>
<text class="as" transform="translate(315.15 254.6) scale(1 1.2)">*</text>
<text class="as" transform="translate(324.15 256) scale(1 1.2)">*</text>
<text class="as" transform="translate(333.15 256) scale(1 1.2)">*</text>
<text class="as" transform="translate(342.15 259.4) scale(1 1.2)">*</text>
<text class="as" transform="translate(351.15 249.6) scale(1 1.2)">*</text>
<text class="as" transform="translate(360.15 254.6) scale(1 1.2)">*</text>
<text class="as" transform="translate(369.15 253) scale(1 1.2)">*</text>
<text class="tt" transform="translate(292.3 225.6)">NO<tspan class="sb" dy="3.3">2</tspan></text>
</g>
<g>
<line class="z" x1="399.45" y1="261.4" x2="540.55" y2="261.4"/>
<rect class="b" x="399.38" y="245.42" width="7.05" height="15.98" fill="#ff0000"/>
<rect class="b" x="408.38" y="245.42" width="7.05" height="15.98" fill="#ffff00"/>
<rect class="b" x="417.38" y="249.42" width="7.05" height="11.98" fill="#0000ff"/>
<rect class="b" x="426.38" y="238.42" width="7.05" height="22.98" fill="#00ff00"/>
<rect class="b" x="435.38" y="247.02" width="7.05" height="14.38" fill="#ff0000"/>
<rect class="b" x="444.38" y="241.02" width="7.05" height="20.38" fill="#ffff00"/>
<rect class="b" x="453.38" y="255.62" width="7.05" height="5.77" fill="#0000ff"/>
<rect class="b" x="462.38" y="252.42" width="7.05" height="8.98" fill="#00ff00"/>
<rect class="b" x="471.38" y="247.62" width="7.05" height="13.78" fill="#ff0000"/>
<rect class="b" x="480.38" y="251.42" width="7.05" height="9.98" fill="#ffff00"/>
<rect class="b" x="489.38" y="253.42" width="7.05" height="7.98" fill="#0000ff"/>
<rect class="b" x="498.38" y="248.62" width="7.05" height="12.78" fill="#00ff00"/>
<rect class="b" x="507.38" y="245.02" width="7.05" height="16.38" fill="#ff0000"/>
<rect class="b" x="516.38" y="244.42" width="7.05" height="16.98" fill="#ffff00"/>
<rect class="b" x="525.38" y="247.62" width="7.05" height="13.78" fill="#0000ff"/>
<rect class="b" x="534.38" y="244.02" width="6.17" height="17.38" fill="#00ff00"/>
<rect class="fr" x="399.45" y="213.55" width="141.1" height="60.25"/>
<line class="ln" x1="396.95" y1="228" x2="399.45" y2="228"/>
<text class="tk" x="396.25" y="231.95">0.8</text>
<line class="ln" x1="396.95" y1="244.6" x2="399.45" y2="244.6"/>
<text class="tk" x="396.25" y="248.55">0.4</text>
<line class="ln" x1="396.95" y1="261.4" x2="399.45" y2="261.4"/>
<text class="tk" x="396.25" y="265.35">0.0</text>
<line class="ln" x1="434.4" y1="273.8" x2="434.4" y2="276.2"/>
<line class="ln" x1="470.4" y1="273.8" x2="470.4" y2="276.2"/>
<line class="ln" x1="506.4" y1="273.8" x2="506.4" y2="276.2"/>
<text class="as" transform="translate(402.9 246.8) scale(1 1.2)">*</text>
<text class="as" transform="translate(411.9 246.8) scale(1 1.2)">*</text>
<text class="as" transform="translate(420.9 250.8) scale(1 1.2)">*</text>
<text class="as" transform="translate(429.9 239.8) scale(1 1.2)">*</text>
<text class="as" transform="translate(438.9 248.4) scale(1 1.2)">*</text>
<text class="as" transform="translate(447.9 242.4) scale(1 1.2)">*</text>
<text class="as" transform="translate(456.9 257) scale(1 1.2)">*</text>
<text class="as" transform="translate(465.9 253.8) scale(1 1.2)">*</text>
<text class="as" transform="translate(474.9 249) scale(1 1.2)">*</text>
<text class="as" transform="translate(483.9 252.8) scale(1 1.2)">*</text>
<text class="as" transform="translate(492.9 254.8) scale(1 1.2)">*</text>
<text class="as" transform="translate(501.9 250) scale(1 1.2)">*</text>
<text class="as" transform="translate(510.9 246.4) scale(1 1.2)">*</text>
<text class="as" transform="translate(519.9 245.8) scale(1 1.2)">*</text>
<text class="as" transform="translate(528.9 249) scale(1 1.2)">*</text>
<text class="as" transform="translate(537.9 245.4) scale(1 1.2)">*</text>
<text class="tt" transform="translate(464.1 225.5)">8-h O<tspan class="sb" dy="3.3">3</tspan></text>
</g>
<g>
<line class="z" x1="62.5" y1="311" x2="203.4" y2="311"/>
<rect class="b" x="62.42" y="311" width="7.05" height="9.38" fill="#ff0000"/>
<rect x="71.42" y="309.2" width="7.05" height="1.4" fill="#ffff00" stroke="#333" stroke-width="0.3"/>
<rect class="b" x="80.42" y="311" width="7.05" height="12.58" fill="#0000ff"/>
<rect class="b" x="89.42" y="311" width="7.05" height="7.57" fill="#00ff00"/>
<rect class="b" x="98.42" y="311" width="7.05" height="6.57" fill="#ff0000"/>
<rect x="107.42" y="309.9" width="7.05" height="0.7" fill="#6f6f30" stroke="#333" stroke-width="0.3"/>
<rect x="116.42" y="311.4" width="7.05" height="1.4" fill="#0000ff" stroke="#333" stroke-width="0.3"/>
<rect x="125.42" y="311.4" width="7.05" height="1" fill="#00ff00" stroke="#333" stroke-width="0.3"/>
<rect class="b" x="134.43" y="308.02" width="7.05" height="2.97" fill="#ff0000"/>
<rect x="143.43" y="309.9" width="7.05" height="0.7" fill="#ffff00" stroke="#333" stroke-width="0.3"/>
<rect class="b" x="152.43" y="311" width="7.05" height="4.38" fill="#0000ff"/>
<rect class="b" x="161.43" y="302.02" width="7.05" height="8.98" fill="#00ff00"/>
<rect class="b" x="170.43" y="311" width="7.05" height="2.27" fill="#ff0000"/>
<rect class="b" x="179.43" y="301.02" width="7.05" height="9.98" fill="#ffff00"/>
<rect class="b" x="188.43" y="303.62" width="7.05" height="7.38" fill="#0000ff"/>
<rect class="b" x="197.43" y="308.02" width="5.97" height="2.97" fill="#00ff00"/>
<rect class="fr" x="62.5" y="280.5" width="140.9" height="60.8"/>
<line class="ln" x1="60" y1="288.4" x2="62.5" y2="288.4"/>
<text class="tk" x="59.3" y="292.35">0.6</text>
<line class="ln" x1="60" y1="299.6" x2="62.5" y2="299.6"/>
<text class="tk" x="59.3" y="303.55">0.3</text>
<line class="ln" x1="60" y1="311" x2="62.5" y2="311"/>
<text class="tk" x="59.3" y="314.95">0.0</text>
<line class="ln" x1="60" y1="322.4" x2="62.5" y2="322.4"/>
<text class="tk" x="59.3" y="326.35">-0.3</text>
<line class="ln" x1="60" y1="334" x2="62.5" y2="334"/>
<text class="tk" x="59.3" y="337.95">-0.6</text>
<line class="ln" x1="97.45" y1="341.3" x2="97.45" y2="343.7"/>
<line class="ln" x1="133.45" y1="341.3" x2="133.45" y2="343.7"/>
<line class="ln" x1="169.45" y1="341.3" x2="169.45" y2="343.7"/>
<text class="as" transform="translate(65.95 327.2) scale(1 1.2)">*</text>
<text class="as" transform="translate(83.95 330.4) scale(1 1.2)">*</text>
<text class="as" transform="translate(92.95 325.4) scale(1 1.2)">*</text>
<text class="as" transform="translate(101.95 324.4) scale(1 1.2)">*</text>
<text class="as" transform="translate(119.95 319.2) scale(1 1.2)">*</text>
<text class="as" transform="translate(128.95 318.8) scale(1 1.2)">*</text>
<text class="as" transform="translate(137.95 309.4) scale(1 1.2)">*</text>
<text class="as" transform="translate(155.95 322.2) scale(1 1.2)">*</text>
<text class="as" transform="translate(164.95 303.4) scale(1 1.2)">*</text>
<text class="as" transform="translate(173.95 320.1) scale(1 1.2)">*</text>
<text class="as" transform="translate(182.95 302.4) scale(1 1.2)">*</text>
<text class="as" transform="translate(191.95 305) scale(1 1.2)">*</text>
<text class="as" transform="translate(200.95 309.4) scale(1 1.2)">*</text>
</g>
<g>
<line class="z" x1="230.7" y1="305" x2="372.2" y2="305"/>
<rect class="b" x="230.62" y="305" width="7.05" height="12.48" fill="#ff0000"/>
<rect class="b" x="239.62" y="305" width="7.05" height="16.58" fill="#ffff00"/>
<rect class="b" x="248.62" y="305" width="7.05" height="10.78" fill="#0000ff"/>
<rect class="b" x="257.62" y="305" width="7.05" height="4.57" fill="#00ff00"/>
<rect class="b" x="266.62" y="305" width="7.05" height="14.38" fill="#ff0000"/>
<rect class="b" x="275.62" y="305" width="7.05" height="15.68" fill="#ffff00"/>
<rect class="b" x="284.62" y="305" width="7.05" height="4.57" fill="#0000ff"/>
<rect class="b" x="293.62" y="305" width="7.05" height="3.77" fill="#00ff00"/>
<rect class="b" x="302.62" y="305" width="7.05" height="6.97" fill="#ff0000"/>
<rect class="b" x="311.62" y="305" width="7.05" height="12.78" fill="#ffff00"/>
<rect class="b" x="320.62" y="305" width="7.05" height="10.98" fill="#0000ff"/>
<rect class="b" x="329.62" y="299.62" width="7.05" height="5.38" fill="#00ff00"/>
<rect class="b" x="338.62" y="305" width="7.05" height="11.38" fill="#ff0000"/>
<rect class="b" x="347.62" y="305" width="7.05" height="10.38" fill="#ffff00"/>
<rect class="b" x="356.62" y="305" width="7.05" height="14.78" fill="#0000ff"/>
<rect x="365.62" y="303.9" width="6.57" height="0.7" fill="#2a6a2a" stroke="#333" stroke-width="0.3"/>
<rect class="fr" x="230.7" y="280.5" width="141.5" height="60.8"/>
<line class="ln" x1="228.2" y1="288.6" x2="230.7" y2="288.6"/>
<text class="tk" x="227.5" y="292.55">0.4</text>
<line class="ln" x1="228.2" y1="305" x2="230.7" y2="305"/>
<text class="tk" x="227.5" y="308.95">0.0</text>
<line class="ln" x1="228.2" y1="321.4" x2="230.7" y2="321.4"/>
<text class="tk" x="227.5" y="325.35">-0.4</text>
<line class="ln" x1="228.2" y1="337.6" x2="230.7" y2="337.6"/>
<text class="tk" x="227.5" y="341.55">-0.8</text>
<line class="ln" x1="265.65" y1="341.3" x2="265.65" y2="343.7"/>
<line class="ln" x1="301.65" y1="341.3" x2="301.65" y2="343.7"/>
<line class="ln" x1="337.65" y1="341.3" x2="337.65" y2="343.7"/>
<text class="as" transform="translate(234.15 324.3) scale(1 1.2)">*</text>
<text class="as" transform="translate(243.15 328.4) scale(1 1.2)">*</text>
<text class="as" transform="translate(252.15 322.6) scale(1 1.2)">*</text>
<text class="as" transform="translate(261.15 316.4) scale(1 1.2)">*</text>
<text class="as" transform="translate(279.15 327.5) scale(1 1.2)">*</text>
<text class="as" transform="translate(288.15 316.4) scale(1 1.2)">*</text>
<text class="as" transform="translate(297.15 315.6) scale(1 1.2)">*</text>
<text class="as" transform="translate(306.15 318.8) scale(1 1.2)">*</text>
<text class="as" transform="translate(315.15 324.6) scale(1 1.2)">*</text>
<text class="as" transform="translate(324.15 322.8) scale(1 1.2)">*</text>
<text class="as" transform="translate(333.15 301) scale(1 1.2)">*</text>
<text class="as" transform="translate(342.15 323.2) scale(1 1.2)">*</text>
<text class="as" transform="translate(351.15 322.2) scale(1 1.2)">*</text>
<text class="as" transform="translate(360.15 326.6) scale(1 1.2)">*</text>
</g>
<g>
<line class="z" x1="399.45" y1="328.6" x2="540.55" y2="328.6"/>
<rect class="b" x="399.38" y="298.43" width="7.05" height="30.18" fill="#ff0000"/>
<rect class="b" x="408.38" y="301.43" width="7.05" height="27.18" fill="#ffff00"/>
<rect class="b" x="417.38" y="304.03" width="7.05" height="24.58" fill="#0000ff"/>
<rect class="b" x="426.38" y="310.43" width="7.05" height="18.18" fill="#00ff00"/>
<rect class="b" x="435.38" y="299.43" width="7.05" height="29.18" fill="#ff0000"/>
<rect class="b" x="444.38" y="299.43" width="7.05" height="29.18" fill="#ffff00"/>
<rect class="b" x="453.38" y="304.03" width="7.05" height="24.58" fill="#0000ff"/>
<rect class="b" x="462.38" y="314.43" width="7.05" height="14.18" fill="#00ff00"/>
<rect class="b" x="471.38" y="304.62" width="7.05" height="23.98" fill="#ff0000"/>
<rect class="b" x="480.38" y="304.62" width="7.05" height="23.98" fill="#ffff00"/>
<rect class="b" x="489.38" y="301.03" width="7.05" height="27.58" fill="#0000ff"/>
<rect class="b" x="498.38" y="313.43" width="7.05" height="15.18" fill="#00ff00"/>
<rect class="b" x="507.38" y="301.62" width="7.05" height="26.98" fill="#ff0000"/>
<rect class="b" x="516.38" y="312.43" width="7.05" height="16.18" fill="#ffff00"/>
<rect class="b" x="525.38" y="306.62" width="7.05" height="21.98" fill="#0000ff"/>
<rect class="b" x="534.38" y="319.43" width="6.17" height="9.18" fill="#00ff00"/>
<rect class="fr" x="399.45" y="280.5" width="141.1" height="60.8"/>
<line class="ln" x1="396.95" y1="295" x2="399.45" y2="295"/>
<text class="tk" x="396.25" y="298.95">0.8</text>
<line class="ln" x1="396.95" y1="312" x2="399.45" y2="312"/>
<text class="tk" x="396.25" y="315.95">0.4</text>
<line class="ln" x1="396.95" y1="328.6" x2="399.45" y2="328.6"/>
<text class="tk" x="396.25" y="332.55">0.0</text>
<line class="ln" x1="434.4" y1="341.3" x2="434.4" y2="343.7"/>
<line class="ln" x1="470.4" y1="341.3" x2="470.4" y2="343.7"/>
<line class="ln" x1="506.4" y1="341.3" x2="506.4" y2="343.7"/>
<text class="as" transform="translate(402.9 299.8) scale(1 1.2)">*</text>
<text class="as" transform="translate(411.9 302.8) scale(1 1.2)">*</text>
<text class="as" transform="translate(420.9 305.4) scale(1 1.2)">*</text>
<text class="as" transform="translate(429.9 311.8) scale(1 1.2)">*</text>
<text class="as" transform="translate(438.9 300.8) scale(1 1.2)">*</text>
<text class="as" transform="translate(447.9 300.8) scale(1 1.2)">*</text>
<text class="as" transform="translate(456.9 305.4) scale(1 1.2)">*</text>
<text class="as" transform="translate(465.9 315.8) scale(1 1.2)">*</text>
<text class="as" transform="translate(474.9 306) scale(1 1.2)">*</text>
<text class="as" transform="translate(483.9 306) scale(1 1.2)">*</text>
<text class="as" transform="translate(492.9 302.4) scale(1 1.2)">*</text>
<text class="as" transform="translate(501.9 314.8) scale(1 1.2)">*</text>
<text class="as" transform="translate(510.9 303) scale(1 1.2)">*</text>
<text class="as" transform="translate(519.9 313.8) scale(1 1.2)">*</text>
<text class="as" transform="translate(528.9 308) scale(1 1.2)">*</text>
<text class="as" transform="translate(537.9 320.8) scale(1 1.2)">*</text>
</g>
<g>
<line class="z" x1="62.5" y1="396" x2="203.4" y2="396"/>
<rect class="b" x="62.42" y="374.62" width="7.05" height="21.38" fill="#ff0000"/>
<rect class="b" x="71.42" y="380.43" width="7.05" height="15.58" fill="#ffff00"/>
<rect class="b" x="80.42" y="373.43" width="7.05" height="22.58" fill="#0000ff"/>
<rect class="b" x="89.42" y="362.02" width="7.05" height="33.97" fill="#00ff00"/>
<rect class="b" x="98.42" y="375.43" width="7.05" height="20.58" fill="#ff0000"/>
<rect class="b" x="107.42" y="384.43" width="7.05" height="11.58" fill="#ffff00"/>
<rect class="b" x="116.42" y="374.02" width="7.05" height="21.98" fill="#0000ff"/>
<rect class="b" x="125.42" y="364.02" width="7.05" height="31.97" fill="#00ff00"/>
<rect class="b" x="134.43" y="393.02" width="7.05" height="2.97" fill="#ff0000"/>
<rect class="b" x="143.43" y="391.43" width="7.05" height="4.57" fill="#ffff00"/>
<rect class="b" x="152.43" y="390.43" width="7.05" height="5.57" fill="#0000ff"/>
<rect class="b" x="161.43" y="391.62" width="7.05" height="4.38" fill="#00ff00"/>
<rect class="b" x="170.43" y="392.02" width="7.05" height="3.97" fill="#ff0000"/>
<rect class="b" x="179.43" y="396" width="7.05" height="2.37" fill="#ffff00"/>
<rect class="b" x="188.43" y="393.02" width="7.05" height="2.97" fill="#0000ff"/>
<rect x="197.43" y="394" width="5.97" height="1.6" fill="#00ff00" stroke="#333" stroke-width="0.3"/>
<rect class="fr" x="62.5" y="347.9" width="140.9" height="60.2"/>
<line class="ln" x1="60" y1="362.3" x2="62.5" y2="362.3"/>
<text class="tk" x="59.3" y="366.25">0.8</text>
<line class="ln" x1="60" y1="379.4" x2="62.5" y2="379.4"/>
<text class="tk" x="59.3" y="383.35">0.4</text>
<line class="ln" x1="60" y1="396.1" x2="62.5" y2="396.1"/>
<text class="tk" x="59.3" y="400.05">0.0</text>
<line class="ln" x1="97.45" y1="408.1" x2="97.45" y2="410.5"/>
<line class="ln" x1="133.45" y1="408.1" x2="133.45" y2="410.5"/>
<line class="ln" x1="169.45" y1="408.1" x2="169.45" y2="410.5"/>
<text class="as" transform="translate(65.95 376) scale(1 1.2)">*</text>
<text class="as" transform="translate(74.95 381.8) scale(1 1.2)">*</text>
<text class="as" transform="translate(83.95 374.8) scale(1 1.2)">*</text>
<text class="as" transform="translate(92.95 363.4) scale(1 1.2)">*</text>
<text class="as" transform="translate(101.95 376.8) scale(1 1.2)">*</text>
<text class="as" transform="translate(110.95 385.8) scale(1 1.2)">*</text>
<text class="as" transform="translate(119.95 375.4) scale(1 1.2)">*</text>
<text class="as" transform="translate(128.95 365.4) scale(1 1.2)">*</text>
<text class="as" transform="translate(137.95 394.4) scale(1 1.2)">*</text>
<text class="as" transform="translate(146.95 392.8) scale(1 1.2)">*</text>
<text class="as" transform="translate(155.95 391.8) scale(1 1.2)">*</text>
<text class="as" transform="translate(164.95 393) scale(1 1.2)">*</text>
<text class="as" transform="translate(173.95 393.4) scale(1 1.2)">*</text>
<text class="as" transform="translate(182.95 405.2) scale(1 1.2)">*</text>
<text class="as" transform="translate(191.95 394.4) scale(1 1.2)">*</text>
</g>
<g>
<line class="z" x1="230.7" y1="394.4" x2="372.2" y2="394.4"/>
<rect class="b" x="230.62" y="372.62" width="7.05" height="21.78" fill="#ff0000"/>
<rect class="b" x="239.62" y="386.42" width="7.05" height="7.98" fill="#ffff00"/>
<rect class="b" x="248.62" y="375.02" width="7.05" height="19.38" fill="#0000ff"/>
<rect class="b" x="257.62" y="364.02" width="7.05" height="30.38" fill="#00ff00"/>
<rect class="b" x="266.62" y="373.02" width="7.05" height="21.38" fill="#ff0000"/>
<rect class="b" x="275.62" y="388.42" width="7.05" height="5.97" fill="#ffff00"/>
<rect class="b" x="284.62" y="377.42" width="7.05" height="16.98" fill="#0000ff"/>
<rect class="b" x="293.62" y="367.42" width="7.05" height="26.98" fill="#00ff00"/>
<rect class="b" x="302.62" y="390.02" width="7.05" height="4.38" fill="#ff0000"/>
<rect class="b" x="311.62" y="382.42" width="7.05" height="11.98" fill="#ffff00"/>
<rect class="b" x="320.62" y="392.42" width="7.05" height="1.97" fill="#0000ff"/>
<rect class="b" x="329.62" y="389.42" width="7.05" height="4.97" fill="#00ff00"/>
<rect class="b" x="338.62" y="389.02" width="7.05" height="5.38" fill="#ff0000"/>
<rect class="b" x="347.62" y="382.62" width="7.05" height="11.78" fill="#ffff00"/>
<rect class="b" x="356.62" y="394.4" width="7.05" height="2.17" fill="#0000ff"/>
<rect class="fr" x="230.7" y="347.9" width="141.5" height="60.2"/>
<line class="ln" x1="228.2" y1="361.6" x2="230.7" y2="361.6"/>
<text class="tk" x="227.5" y="365.55">0.8</text>
<line class="ln" x1="228.2" y1="378" x2="230.7" y2="378"/>
<text class="tk" x="227.5" y="381.95">0.4</text>
<line class="ln" x1="228.2" y1="394.4" x2="230.7" y2="394.4"/>
<text class="tk" x="227.5" y="398.35">0.0</text>
<line class="ln" x1="265.65" y1="408.1" x2="265.65" y2="410.5"/>
<line class="ln" x1="301.65" y1="408.1" x2="301.65" y2="410.5"/>
<line class="ln" x1="337.65" y1="408.1" x2="337.65" y2="410.5"/>
<text class="as" transform="translate(234.15 374) scale(1 1.2)">*</text>
<text class="as" transform="translate(243.15 387.8) scale(1 1.2)">*</text>
<text class="as" transform="translate(252.15 376.4) scale(1 1.2)">*</text>
<text class="as" transform="translate(261.15 365.4) scale(1 1.2)">*</text>
<text class="as" transform="translate(270.15 374.4) scale(1 1.2)">*</text>
<text class="as" transform="translate(279.15 389.8) scale(1 1.2)">*</text>
<text class="as" transform="translate(288.15 378.8) scale(1 1.2)">*</text>
<text class="as" transform="translate(297.15 368.8) scale(1 1.2)">*</text>
<text class="as" transform="translate(306.15 391.4) scale(1 1.2)">*</text>
<text class="as" transform="translate(315.15 383.8) scale(1 1.2)">*</text>
<text class="as" transform="translate(333.15 390.8) scale(1 1.2)">*</text>
<text class="as" transform="translate(342.15 390.4) scale(1 1.2)">*</text>
<text class="as" transform="translate(351.15 384) scale(1 1.2)">*</text>
</g>
<g>
<line class="z" x1="399.45" y1="360.4" x2="540.55" y2="360.4"/>
<rect class="b" x="399.38" y="360.4" width="7.05" height="12.58" fill="#ff0000"/>
<rect class="b" x="408.38" y="360.4" width="7.05" height="18.58" fill="#ffff00"/>
<rect class="b" x="417.38" y="360.4" width="7.05" height="16.98" fill="#0000ff"/>
<rect class="b" x="426.38" y="360.4" width="7.05" height="32.57" fill="#00ff00"/>
<rect class="b" x="435.38" y="360.4" width="7.05" height="14.18" fill="#ff0000"/>
<rect class="b" x="444.38" y="360.4" width="7.05" height="20.98" fill="#ffff00"/>
<rect class="b" x="453.38" y="360.4" width="7.05" height="11.98" fill="#0000ff"/>
<rect class="b" x="462.38" y="360.4" width="7.05" height="27.18" fill="#00ff00"/>
<rect class="b" x="471.38" y="360.4" width="7.05" height="23.18" fill="#ff0000"/>
<rect class="b" x="480.38" y="360.4" width="7.05" height="32.57" fill="#ffff00"/>
<rect class="b" x="489.38" y="360.4" width="7.05" height="29.58" fill="#0000ff"/>
<rect class="b" x="498.38" y="360.4" width="7.05" height="27.18" fill="#00ff00"/>
<rect class="b" x="507.38" y="360.4" width="7.05" height="24.98" fill="#ff0000"/>
<rect class="b" x="516.38" y="360.4" width="7.05" height="30.58" fill="#ffff00"/>
<rect class="b" x="525.38" y="360.4" width="7.05" height="16.98" fill="#0000ff"/>
<rect class="b" x="534.38" y="360.4" width="6.17" height="16.18" fill="#00ff00"/>
<rect class="fr" x="399.45" y="347.9" width="141.1" height="60.2"/>
<line class="ln" x1="396.95" y1="360.4" x2="399.45" y2="360.4"/>
<text class="tk" x="396.25" y="364.35">0.0</text>
<line class="ln" x1="396.95" y1="377" x2="399.45" y2="377"/>
<text class="tk" x="396.25" y="380.95">-0.4</text>
<line class="ln" x1="396.95" y1="393.6" x2="399.45" y2="393.6"/>
<text class="tk" x="396.25" y="397.55">-0.8</text>
<line class="ln" x1="434.4" y1="408.1" x2="434.4" y2="410.5"/>
<line class="ln" x1="470.4" y1="408.1" x2="470.4" y2="410.5"/>
<line class="ln" x1="506.4" y1="408.1" x2="506.4" y2="410.5"/>
<text class="as" transform="translate(402.9 379.8) scale(1 1.2)">*</text>
<text class="as" transform="translate(411.9 385.8) scale(1 1.2)">*</text>
<text class="as" transform="translate(420.9 384.2) scale(1 1.2)">*</text>
<text class="as" transform="translate(429.9 399.8) scale(1 1.2)">*</text>
<text class="as" transform="translate(438.9 381.4) scale(1 1.2)">*</text>
<text class="as" transform="translate(447.9 388.2) scale(1 1.2)">*</text>
<text class="as" transform="translate(456.9 379.2) scale(1 1.2)">*</text>
<text class="as" transform="translate(465.9 394.4) scale(1 1.2)">*</text>
<text class="as" transform="translate(474.9 390.4) scale(1 1.2)">*</text>
<text class="as" transform="translate(483.9 399.8) scale(1 1.2)">*</text>
<text class="as" transform="translate(492.9 396.8) scale(1 1.2)">*</text>
<text class="as" transform="translate(501.9 394.4) scale(1 1.2)">*</text>
<text class="as" transform="translate(510.9 392.2) scale(1 1.2)">*</text>
<text class="as" transform="translate(519.9 397.8) scale(1 1.2)">*</text>
<text class="as" transform="translate(528.9 384.2) scale(1 1.2)">*</text>
<text class="as" transform="translate(537.9 383.4) scale(1 1.2)">*</text>
</g>
<text class="xl" x="95.25" y="413.2" transform="rotate(-45 95.25 413.2)">BJ2016</text>
<text class="xl" x="131.25" y="413.2" transform="rotate(-45 131.25 413.2)">BJ2017</text>
<text class="xl" x="167.2" y="413.9" transform="rotate(-45 167.2 413.9)">NJ2016</text>
<text class="xl" x="201.5" y="413.9" transform="rotate(-45 201.5 413.9)">NJ2017</text>
<text class="xl" x="263.45" y="413.2" transform="rotate(-45 263.45 413.2)">BJ2016</text>
<text class="xl" x="299.45" y="413.3" transform="rotate(-45 299.45 413.3)">BJ2017</text>
<text class="xl" x="335" y="413.9" transform="rotate(-45 335 413.9)">NJ2016</text>
<text class="xl" x="368.6" y="413.9" transform="rotate(-45 368.6 413.9)">NJ2017</text>
<text class="xl" x="429.3" y="414" transform="rotate(-45 429.3 414)">BJ2016</text>
<text class="xl" x="464.6" y="414.1" transform="rotate(-45 464.6 414.1)">BJ2017</text>
<text class="xl" x="501.4" y="414" transform="rotate(-45 501.4 414)">NJ2016</text>
<text class="xl" x="534.2" y="414" transform="rotate(-45 534.2 414)">NJ2017</text>
</svg>
</body></html>
